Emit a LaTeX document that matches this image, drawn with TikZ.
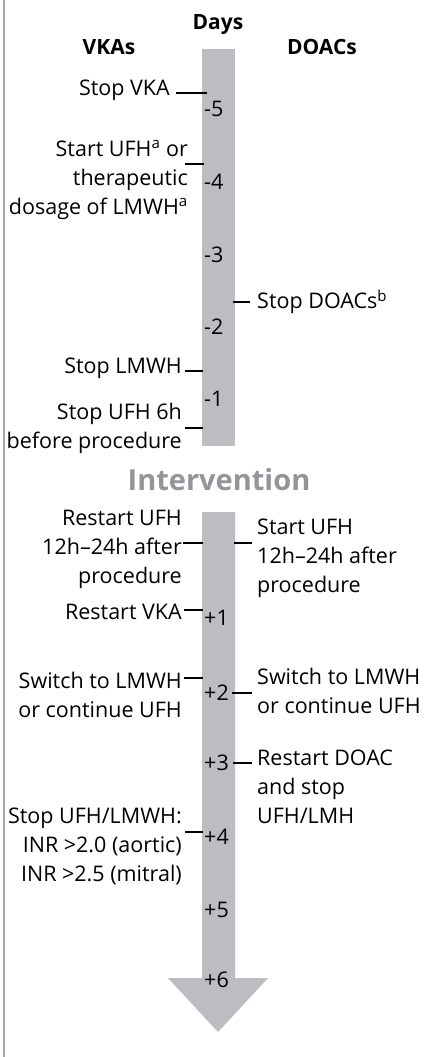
\documentclass[tikz,border=0pt]{standalone}
\usepackage{fontspec}
\setmainfont{Open Sans}
\definecolor{bargray}{HTML}{BCBDC0}
\definecolor{intgray}{HTML}{939598}
\definecolor{bordergray}{HTML}{A7A7A7}
\begin{document}
\begin{tikzpicture}[x=1pt,y=-1pt,
  lbl/.style={font=\fontsize{21.5}{29}\selectfont, inner sep=0pt},
  lft/.style={lbl, anchor=east, align=right},
  rgt/.style={lbl, anchor=west, align=left},
  day/.style={lbl, anchor=west},
  head/.style={font=\fontsize{21}{26}\selectfont\bfseries, inner sep=0pt},
  tickline/.style={line width=1.2pt, black},
  bar/.style={fill=bargray, draw=none}
]
\useasboundingbox (0,0) rectangle (435,1057);
\fill[white] (0,0) rectangle (435,1057);
\draw[bordergray, line width=1.5pt] (4,0) -- (4,1057);

% bars
\fill[bar] (202,49) rectangle (235,446);
\fill[bar] (202,512) -- (235,512) -- (235,978) -- (268,978) -- (218,1032) -- (168,978) -- (202,978) -- cycle;

% headings
\node[head] (days) at (218,25) {Days};
\node[head] (vkas) at (109,47) {VKAs};
\node[head] (doacs) at (322,47) {DOACs};
\node[font=\fontsize{29}{34}\selectfont\bfseries, text=intgray, inner sep=0pt] (interv) at (219,480) {Intervention};

% day numbers
\node[day] (dm5) at (204,109) {-5};
\node[day] (dm4) at (204,182) {-4};
\node[day] (dm3) at (204,255) {-3};
\node[day] (dm2) at (204,327) {-2};
\node[day] (dm1) at (204,399) {-1};
\node[day] (dp1) at (204,618) {+1};
\node[day] (dp2) at (204,693) {+2};
\node[day] (dp3) at (204,763) {+3};
\node[day] (dp4) at (204,837) {+4};
\node[day] (dp5) at (204,910) {+5};
\node[day] (dp6) at (204,980) {+6};

% left labels
\node[lft] (l1) at (170,90) {Stop VKA};
\node[lft] (l2) at (188,180) {Start UFH\textsuperscript{a} or\\therapeutic\\dosage of LMWH\textsuperscript{a}};
\node[lft] (l3) at (182,368) {Stop LMWH};
\node[lft] (l4) at (182,428) {Stop UFH 6h\\before procedure};
\node[lft] (l5) at (182,549) {Restart UFH\\12h–24h after\\procedure};
\node[lft] (l6) at (182,612) {Restart VKA};
\node[lft] (l7) at (182,695) {Switch to LMWH\\or continue UFH};
\node[lft] (l8) at (182,846) {Stop UFH/LMWH:\\INR >2.0 (aortic)\\INR >2.5 (mitral)};

% right labels
\node[rgt] (r1) at (257,302) {Stop DOACs\textsuperscript{b}};
\node[rgt] (r2) at (257,558) {Start UFH\\12h–24h after\\procedure};
\node[rgt] (r3) at (257,691) {Switch to LMWH\\or continue UFH};
\node[rgt] (r4) at (257,787) {Restart DOAC\\and stop\\UFH/LMH};

% ticks
\coordinate (a1) at (176,93);  \coordinate (b1) at (207,93);
\coordinate (a2) at (185,164); \coordinate (b2) at (204,164);
\coordinate (a3) at (185,371); \coordinate (b3) at (203,371);
\coordinate (a4) at (185,428); \coordinate (b4) at (203,428);
\coordinate (a5) at (183,543); \coordinate (b5) at (203,543);
\coordinate (a6) at (184,610); \coordinate (b6) at (203,610);
\coordinate (a7) at (184,678); \coordinate (b7) at (203,678);
\coordinate (a8) at (185,832); \coordinate (b8) at (203,832);
\coordinate (c1) at (233,302); \coordinate (d1) at (250,302);
\coordinate (c2) at (234,543); \coordinate (d2) at (252,543);
\coordinate (c3) at (232,693); \coordinate (d3) at (252,693);
\coordinate (c4) at (233,763); \coordinate (d4) at (252,763);
\foreach \p/\q in {a1/b1,a2/b2,a3/b3,a4/b4,a5/b5,a6/b6,a7/b7,a8/b8,c1/d1,c2/d2,c3/d3,c4/d4}
  \draw[tickline] (\p) -- (\q);
\end{tikzpicture}
\end{document}
